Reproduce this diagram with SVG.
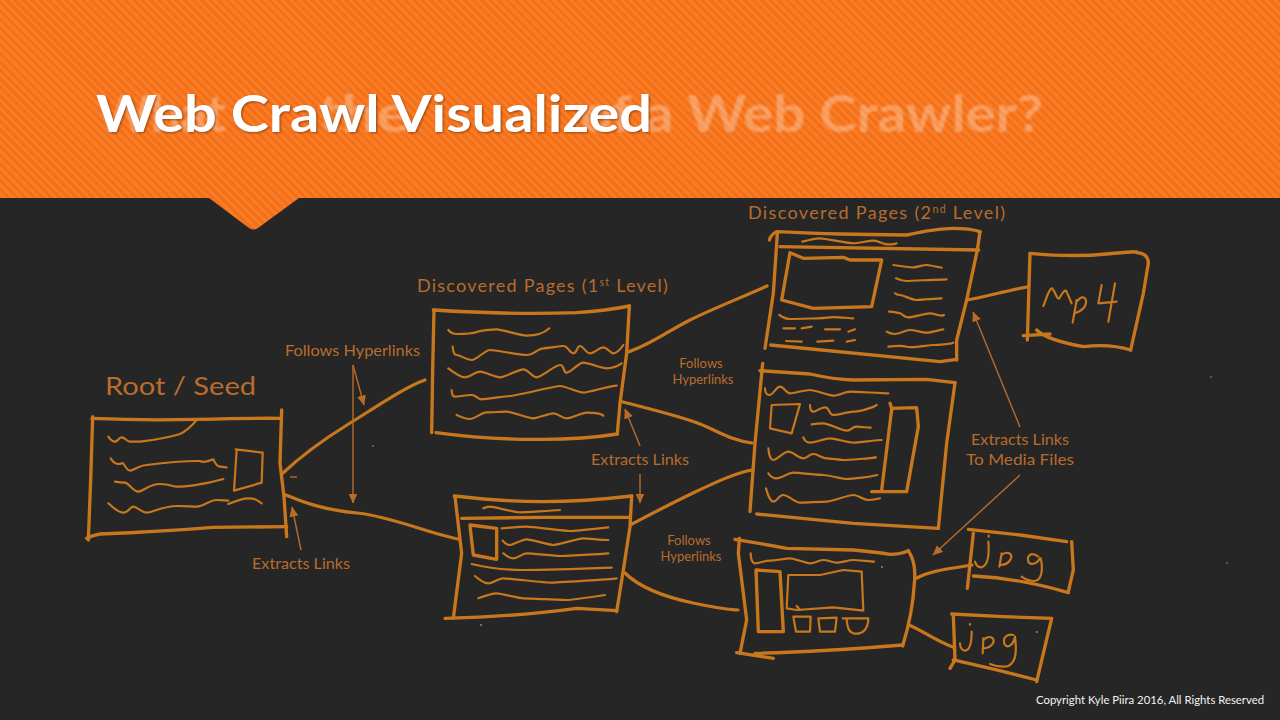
<svg xmlns="http://www.w3.org/2000/svg" width="1280" height="720" viewBox="0 0 1280 720">
<style>
text{font-family:"Lato","Liberation Sans",sans-serif}
.lb{fill:#b96c2c;font-size:15px}
.tt{fill:#fff;font-weight:700;font-size:51px}
.gh{fill:#fff;font-weight:700;font-size:51px;opacity:.3}
.sk,.sk path{fill:none;stroke:#c9771f;stroke-linecap:round;stroke-linejoin:round}
.b{stroke-width:10}
.w{stroke-width:6.5}
.c{fill:none;stroke:#c9771f;stroke-width:3.2;stroke-linecap:round;stroke-linejoin:round}
.a{fill:none;stroke:#b96c2c;stroke-width:1.4;marker-end:url(#ah)}
.n{fill:none;stroke:#b96c2c;stroke-width:1.4}
.d{fill:#c98a50}
</style>
<defs>
<pattern id="st" patternUnits="userSpaceOnUse" width="6" height="6" patternTransform="rotate(-45)">
<rect width="6" height="6" fill="#f36f18"/><rect width="3" height="6" fill="#f97c26"/>
</pattern>
<marker id="ah" markerUnits="userSpaceOnUse" markerWidth="11" markerHeight="11" refX="9.5" refY="4.5" orient="auto"><path d="M0 0L10 4.5L0 9z" fill="#b96c2c"/></marker>
<filter id="sf" x="-5%" y="-5%" width="110%" height="110%"><feGaussianBlur stdDeviation="0.45"/></filter>
<filter id="gb" x="-5%" y="-20%" width="110%" height="140%"><feGaussianBlur stdDeviation="1"/></filter>
</defs>
<rect width="1280" height="720" fill="#262626"/>
<path d="M0 0H1280V198H299L258 228Q254 231 249 228L209 198H0z" fill="url(#st)"/>
<g id="title">
<g filter="url(#gb)">
<text class="gh" x="96" y="132" textLength="130" lengthAdjust="spacingAndGlyphs">What</text>
<text class="gh" x="318" y="132" textLength="92" lengthAdjust="spacingAndGlyphs">the</text>
<text class="gh" x="580" y="132" textLength="463" lengthAdjust="spacingAndGlyphs">of a Web Crawler?</text>
</g>
<text class="tt" x="96" y="132" textLength="556" lengthAdjust="spacingAndGlyphs" style="filter:drop-shadow(1px 1px 1px rgba(70,30,0,.55))">Web Crawl Visualized</text>
</g>
<g id="connectors" filter="url(#sf)">
<path class="c" d="M283 473C300 457 318 443 347 425S405 387 425 380"/>
<path class="c" d="M286 495C305 503 325 510 357 513S425 532 458 539"/>
<path class="c" d="M628 352C650 345 668 331 690 320S745 296 767 286"/>
<path class="c" d="M623 402C650 409 680 416 700 424S730 440 752 443"/>
<path class="c" d="M632 524C655 512 672 503 693 493S735 473 752 470"/>
<path class="c" d="M625 573C640 588 665 597 693 603S725 609 738 610"/>
<path class="c" d="M967 300C985 297 1005 291 1027 287"/>
<path class="c" d="M917 578C932 570 950 569 972 565"/>
<path class="c" d="M909 625C925 632 938 642 953 647"/>
<path class="a" d="M353 365L364 405"/>
<path class="a" d="M353 365V503"/>
<path class="a" d="M301 550L292 507"/>
<path class="a" d="M640 446L625 409"/>
<path class="a" d="M640 474V503"/>
<path class="a" d="M1020 427L973 312"/>
<path class="a" d="M1020 475L933 555"/>
<path class="n" d="M290 477H297"/>
</g>
<g id="root" class="sk" filter="url(#sf)" transform="translate(80 330) scale(.33333)">
<path class="b" d="M36 265Q190 272 350 268T600 265"/>
<path class="b" d="M38 260L32 450L25 630"/>
<path class="b" d="M605 240L600 400L612 500L620 620"/>
<path class="b" d="M20 625Q40 615 60 612Q240 605 400 592L620 590"/>
<path class="w" d="M85 320S95 335 105 335S115 322 125 322S140 335 150 335S170 335 180 335Q260 325 300 312Q325 300 350 270"/>
<path class="w" d="M92 385S103 402 115 402S122 398 128 400S140 422 150 422S180 405 200 405Q300 392 360 393Q372 400 400 388S410 410 420 410S435 412 440 412"/>
<path class="w" d="M105 455S125 458 135 458S160 485 175 485S205 462 240 462S270 470 290 470S370 465 430 447"/>
<path class="w" d="M85 520S115 548 130 548S150 530 160 530S185 548 200 548S250 528 290 528S330 530 350 530S390 510 410 510S435 512 445 512"/>
<path class="w" d="M445 522S485 505 505 505S530 510 545 520"/>
<path class="w" d="M467 358L548 368L545 458L462 482L470 360"/>
</g>
<g id="page-1a" class="sk" filter="url(#sf)" transform="translate(410 270) scale(.33333)">
<path class="b" d="M70 120Q300 135 500 128Q590 122 658 108"/>
<path class="b" d="M72 120L68 300L65 488"/>
<path class="b" d="M658 108L650 250L630 400L622 490"/>
<path class="b" d="M78 488Q240 510 400 508Q520 508 622 492"/>
<path class="w" d="M115 180S125 192 140 192S190 190 200 186S245 178 260 178S330 197 350 197S400 192 418 175"/>
<path class="w" d="M128 230S130 255 140 255S170 270 185 270S225 240 240 240S330 255 350 255S385 235 400 235S445 228 460 228S478 250 490 250S500 228 510 228S528 250 540 250S568 232 580 232S600 250 610 250S630 240 640 225"/>
<path class="w" d="M115 295S150 322 165 322S195 305 210 305S255 322 270 322S325 298 340 298S365 322 380 322S435 285 450 285S458 308 470 308S505 278 520 278S575 295 590 295S620 290 635 280"/>
<path class="w" d="M125 360S125 380 135 380S170 375 185 375S200 388 215 388S285 378 300 378S435 348 450 348S505 368 520 368S600 347 620 347"/>
<path class="w" d="M140 435S165 447 180 447S215 427 230 427S275 425 290 425S355 445 370 445S415 430 430 430S455 445 470 445S515 428 530 428S570 428 580 437"/>
</g>
<g id="page-1b" class="sk" filter="url(#sf)" transform="translate(410 270) scale(.33333)">
<path class="b" d="M133 678Q280 695 400 695T665 678"/>
<path class="b" d="M135 680L155 850L130 1045"/>
<path class="b" d="M665 678L660 770L640 900L620 1025"/>
<path class="b" d="M105 1045Q320 1040 500 1015L620 1022"/>
<path class="b" d="M155 745L400 742L660 742"/>
<path class="w" d="M220 715S230 710 240 710S315 727 330 727S430 722 450 720"/>
<path class="b" d="M180 765L260 775L260 868L190 855L180 768"/>
<path class="w" d="M275 775S335 770 350 770S465 783 480 783S575 774 595 772"/>
<path class="w" d="M278 812S290 825 300 825S335 808 350 808S415 825 430 825S505 805 520 805S575 810 595 810"/>
<path class="w" d="M280 850S295 865 310 865S335 850 350 850S435 858 450 858S575 852 595 850"/>
<path class="w" d="M185 882Q260 900 340 900T605 893"/>
<path class="w" d="M195 918S220 940 235 940S265 925 280 925S405 938 420 938S600 928 620 925"/>
<path class="w" d="M205 985S245 970 260 970S325 985 340 985S455 990 470 990S565 978 585 975"/>
</g>
<g id="page-2a" class="sk" filter="url(#sf)" transform="translate(740 200) scale(.33333)">
<path class="b" d="M88 120Q92 105 110 95Q220 100 300 102T500 105Q590 85 640 85Q690 85 720 95"/>
<path class="b" d="M112 100L100 280L75 445"/>
<path class="b" d="M720 95L712 150L680 300L650 420L650 480"/>
<path class="b" d="M92 435Q300 455 600 485L650 478"/>
<path class="b" d="M120 140L716 150"/>
<path class="w" d="M187 125S225 115 240 115S325 130 340 130S385 122 400 122S430 133 440 133S460 135 470 130"/>
<path class="b" d="M150 158L190 175L310 172L330 180L425 180L395 320L220 325L125 300L150 158"/>
<path class="w" d="M460 195S505 202 520 202S545 195 560 195S595 203 605 203"/>
<path class="w" d="M468 235S485 243 500 243S600 238 620 238"/>
<path class="w" d="M465 280S470 285 480 285S515 300 530 300S590 295 605 295"/>
<path class="w" d="M447 335S470 337 480 340S490 352 505 352S555 340 570 340S600 352 612 345"/>
<path class="w" d="M440 395S450 402 465 402S495 390 510 390S545 398 560 398S595 390 610 388"/>
<path class="w" d="M445 440S485 435 500 440S565 435 580 435S630 432 640 428"/>
<path class="w" d="M118 345S135 357 150 357S255 355 270 352S325 355 340 355"/>
<path class="w" d="M130 385H165M185 385L215 380M255 388H300M325 395L345 388M138 423L185 425M232 425L280 422M320 425L345 420"/>
</g>
<g id="page-2b" class="sk" filter="url(#sf)" transform="translate(740 360) scale(.33333)">
<path class="b" d="M60 32L210 42Q280 58 340 60L560 58L645 68"/>
<path class="b" d="M68 10L45 250L30 455"/>
<path class="b" d="M645 68L620 250L595 505"/>
<path class="b" d="M50 462L340 490L595 505"/>
<path class="w" d="M75 85S75 105 88 105S108 80 120 80S138 100 150 100S195 90 210 90S265 107 280 107S315 95 330 95S430 100 445 100"/>
<path class="w" d="M95 135L180 132L155 220L90 205L95 135"/>
<path class="w" d="M210 135S210 155 220 155S240 142 255 142S265 165 280 165S325 155 340 155S395 145 410 135"/>
<path class="w" d="M215 193S235 190 250 190S305 212 320 212S335 200 350 200S380 203 392 203"/>
<path class="w" d="M190 232S195 248 210 248S255 235 270 235S325 248 340 248S410 240 425 240"/>
<path class="w" d="M85 265S88 300 100 300S130 275 145 275S175 295 190 295S205 282 220 282S245 295 260 295S295 300 310 300S395 295 408 292"/>
<path class="w" d="M85 340S95 355 110 355S145 338 160 338S235 345 250 345S305 357 320 357S395 350 412 345"/>
<path class="w" d="M78 385S88 425 100 425S115 405 130 405S165 428 180 428S245 425 260 425S325 405 340 405S370 420 385 420S410 418 420 415"/>
<path class="b" d="M450 130L455 145L530 143L535 200L500 395L395 395"/>
<path class="b" d="M455 148L425 390"/>
</g>
<g id="page-2c" class="sk" filter="url(#sf)" transform="translate(720 520) scale(.33333)">
<path class="b" d="M45 58Q130 72 200 85L400 90Q460 95 510 103Q540 103 565 92"/>
<path class="b" d="M58 55L55 100L80 300L60 400"/>
<path class="b" d="M565 92Q590 130 583 190Q578 280 548 378"/>
<path class="b" d="M105 400Q300 395 548 375"/>
<path class="b" d="M50 398L160 415"/>
<path class="w" d="M92 100S92 130 105 130S135 122 150 122S195 115 210 115S255 130 270 130S295 120 310 120S335 128 350 128S385 120 400 120S450 125 462 125"/>
<path class="b" d="M108 150L180 155L190 335L115 335L108 150"/>
<path class="w" d="M205 165L300 165L370 150L425 155L430 272L340 262L230 270L200 265L205 165"/>
<path class="w" d="M220 290L272 290L270 335L228 335L220 290M230 258L240 270"/>
<path class="w" d="M295 295L350 293L345 335L300 335L295 295"/>
<path class="w" d="M368 295L445 295C445 330 425 345 400 340C385 335 382 320 380 300"/>
</g>
<g id="mp4" class="sk" filter="url(#sf)" transform="translate(740 200) scale(.33333)">
<path class="b" d="M870 160Q1000 172 1100 162T1190 158Q1225 160 1225 190"/>
<path class="b" d="M870 160L862 420"/>
<path class="b" d="M1225 190L1210 280L1172 450"/>
<path class="b" d="M890 390Q920 420 1030 440Q1110 430 1172 450"/>
<path class="b" d="M850 407L930 402"/>
<path class="w" d="M910 318C920 295 925 270 935 265C945 270 950 300 958 295C965 285 970 270 978 272C985 285 990 300 995 310"/>
<path class="w" d="M1010 300L998 368M1010 305C1025 285 1040 290 1038 310C1035 325 1020 335 1005 340"/>
<path class="w" d="M1085 255L1075 310L1130 305M1125 250L1105 365"/>
</g>
<g id="jpg-1" class="sk" filter="url(#sf)" transform="translate(720 520) scale(.33333)">
<path class="b" d="M745 28L900 45L1040 65"/>
<path class="b" d="M760 40L742 205"/>
<path class="b" d="M1055 65L1060 150L1045 215"/>
<path class="b" d="M760 168Q900 175 1045 218"/>
<path class="w" d="M805 65C808 100 805 135 785 142C775 143 768 135 765 125M806 47V50"/>
<path class="w" d="M845 100L838 140M845 105C860 92 880 100 872 118C865 130 850 135 840 135"/>
<path class="w" d="M955 110C935 95 920 105 925 125C930 135 950 135 960 115M962 115C970 150 965 185 940 183C925 182 915 178 905 170"/>
</g>
<g id="jpg-2" class="sk" filter="url(#sf)" transform="translate(720 520) scale(.33333)">
<path class="b" d="M695 282L850 290L995 295"/>
<path class="b" d="M700 285L705 420L690 445"/>
<path class="b" d="M995 295L970 400L950 485"/>
<path class="b" d="M700 420L830 450L950 480"/>
<path class="w" d="M755 335C755 365 752 390 735 392C725 392 720 380 720 370M750 312V314"/>
<path class="w" d="M790 355L788 400M790 360C805 345 825 350 820 368C815 380 800 385 790 385"/>
<path class="w" d="M880 345C860 340 845 355 855 375C865 385 880 375 885 350C890 390 890 425 865 438C845 443 825 438 810 432"/>
</g>
<g id="labels">
<text class="lb" x="105" y="395" style="font-size:25px" textLength="151" lengthAdjust="spacingAndGlyphs">Root / Seed</text>
<text class="lb" x="285" y="356" textLength="135" lengthAdjust="spacingAndGlyphs">Follows Hyperlinks</text>
<text class="lb" x="252" y="569" textLength="98" lengthAdjust="spacingAndGlyphs">Extracts Links</text>
<text class="lb" x="591" y="465" textLength="98" lengthAdjust="spacingAndGlyphs">Extracts Links</text>
<text class="lb" x="417" y="292" style="font-size:18px;letter-spacing:1.25px">Discovered Pages (1<tspan dy="-6" font-size="10.5">st</tspan><tspan dy="6"> Level)</tspan></text>
<text class="lb" x="748" y="219" style="font-size:18px;letter-spacing:1.35px">Discovered Pages (2<tspan dy="-6" font-size="10.5">nd</tspan><tspan dy="6"> Level)</tspan></text>
<text class="lb" x="701" y="368" text-anchor="middle" style="font-size:13px">Follows</text>
<text class="lb" x="703" y="384" text-anchor="middle" style="font-size:13px">Hyperlinks</text>
<text class="lb" x="689" y="545" text-anchor="middle" style="font-size:13px">Follows</text>
<text class="lb" x="691" y="561" text-anchor="middle" style="font-size:13px">Hyperlinks</text>
<text class="lb" x="971" y="445" textLength="98" lengthAdjust="spacingAndGlyphs">Extracts Links</text>
<text class="lb" x="966" y="465" textLength="108" lengthAdjust="spacingAndGlyphs">To Media Files</text>
<text x="1036" y="704" fill="#f2f2f2" style="font-size:11px;font-weight:400" textLength="228" lengthAdjust="spacingAndGlyphs">Copyright Kyle Piira 2016, All Rights Reserved</text>
</g>
<g id="specks" class="d">
<circle cx="373" cy="446" r=".8"/><circle cx="481" cy="625" r=".9"/><circle cx="882" cy="567" r=".9"/><circle cx="1037" cy="632" r=".9"/><circle cx="1211" cy="377" r=".8"/><circle cx="1227" cy="563" r=".8"/>
</g>
</svg>
